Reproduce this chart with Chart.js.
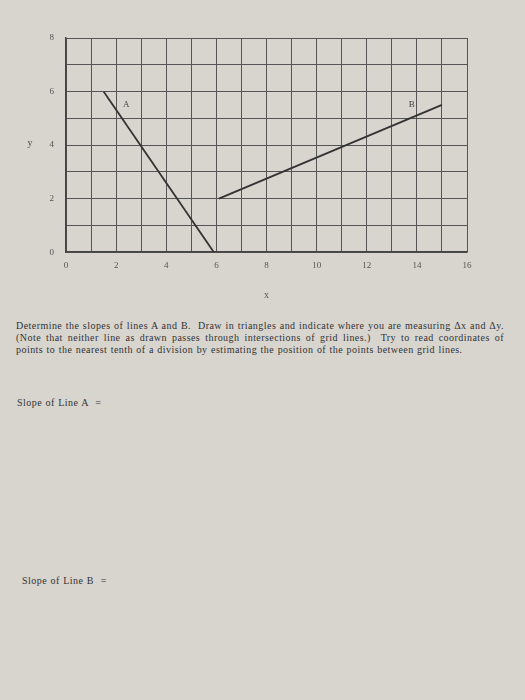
<!DOCTYPE html>
<html>
<head>
<meta charset="utf-8">
<script src="https://cdn.jsdelivr.net/npm/chart.js@4"></script>
<style>
body { margin:0; width:525px; height:700px; background:#d8d5cf; font-family:"Liberation Serif", serif; color:#333; position:relative; overflow:hidden; }
#wrap { position:absolute; left:0; top:0; width:525px; height:305px; }
.txt { position:absolute; font-size:10px; line-height:12px; letter-spacing:0.45px; word-spacing:0.5px; }
</style>
</head>
<body>
<div id="wrap"><canvas id="c"></canvas></div>
<div class="txt" style="left:16px; top:320px; width:488px; text-align:justify;">Determine the slopes of lines A and B.&nbsp; Draw in triangles and indicate where you are measuring Δx and Δy. (Note that neither line as drawn passes through intersections of grid lines.)&nbsp; Try to read coordinates of points to the nearest tenth of a division by estimating the position of the points between grid lines.</div>
<div class="txt" style="left:17px; top:397px;">Slope of Line A &nbsp;=</div>
<div class="txt" style="left:22px; top:575px;">Slope of Line B &nbsp;=</div>
<script>
// Line data
const lineA = [{x: 1.5, y: 6}, {x: 5.9, y: 0}];
const lineB = [{x: 6.1, y: 2}, {x: 15.0, y: 5.5}];
const lineLabels = [{text: 'A', x: 2.4, y: 5.5}, {text: 'B', x: 13.8, y: 5.5}];
const xTicks = [0, 2, 4, 6, 8, 10, 12, 14, 16];
const yTicks = [0, 2, 4, 6, 8];

const labelPlugin = {
    id: 'labels',
    afterDatasetsDraw(chart) {
        const ctx = chart.ctx;
        ctx.save();
        ctx.font = '9px "Liberation Serif"';
        ctx.fillStyle = '#444';
        ctx.textAlign = 'center';
        ctx.textBaseline = 'middle';
        lineLabels.forEach(l => {
            ctx.fillText(l.text, chart.scales.x.getPixelForValue(l.x), chart.scales.y.getPixelForValue(l.y));
        });
        // upright y axis title
        ctx.font = '10px "Liberation Serif"';
        ctx.fillText('y', 30, chart.scales.y.getPixelForValue(4) - 2);
        ctx.restore();
    }
};

new Chart(document.getElementById('c'), {
    type: 'scatter',
    data: {
        datasets: [
            { data: lineA, showLine: true, borderColor: '#333', borderWidth: 1.8, pointRadius: 0 },
            { data: lineB, showLine: true, borderColor: '#333', borderWidth: 1.8, pointRadius: 0 }
        ]
    },
    options: {
        responsive: true,
        maintainAspectRatio: false,
        animation: false,
        layout: { padding: { top: 38, right: 58, left: 20, bottom: 0 } },
        plugins: { legend: { display: false }, tooltip: { enabled: false } },
        scales: {
            x: {
                min: 0, max: 16,
                afterBuildTicks: s => { s.ticks = []; for (let i = 0; i <= 16; i++) s.ticks.push({value: i}); },
                grid: { color: '#555', lineWidth: 1, drawTicks: false },
                border: { color: '#444', width: 1.5 },
                ticks: {
                    padding: 8, color: '#555', font: { family: 'Liberation Serif', size: 9 },
                    callback: v => xTicks.includes(v) ? String(v) : ''
                },
                title: { display: true, text: 'x', color: '#555', font: { family: 'Liberation Serif', size: 10 }, padding: { top: 10 } }
            },
            y: {
                min: 0, max: 8,
                afterBuildTicks: s => { s.ticks = []; for (let i = 0; i <= 8; i++) s.ticks.push({value: i}); },
                afterFit: s => { s.width = 46; },
                grid: { color: '#555', lineWidth: 1, drawTicks: false },
                border: { color: '#444', width: 1.5 },
                ticks: {
                    padding: 12, color: '#555', font: { family: 'Liberation Serif', size: 9 },
                    callback: v => yTicks.includes(v) ? String(v) : ''
                }
            }
        }
    },
    plugins: [labelPlugin]
});
</script>
</body>
</html>
